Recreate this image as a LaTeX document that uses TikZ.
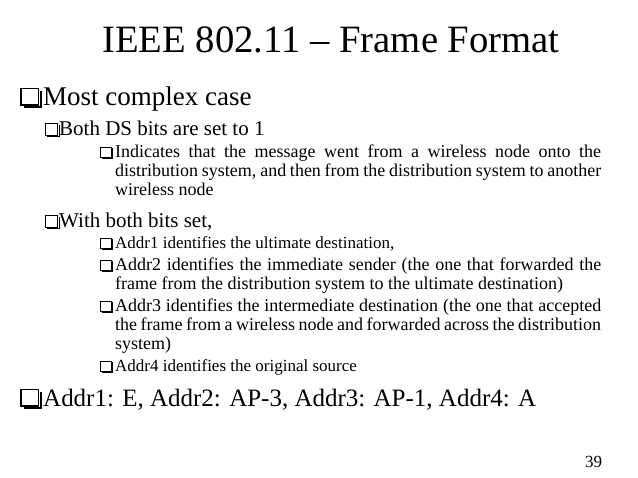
\documentclass[tikz,border=0pt]{standalone}
\usepackage{fontspec}
\setmainfont{Liberation Serif}
\hyphenpenalty=10000
\exhyphenpenalty=10000
\newcommand{\qbul}[3]{% x, baseline y, size
  \draw[black,line width=0.09*#3] (#1+0.12*#3,#2+0.04*#3) -- (#1+0.9*#3,#2+0.04*#3) -- (#1+0.9*#3,#2-0.7*#3);
  \draw[black,line width=0.06*#3,fill=white] (#1,#2-0.78*#3) rectangle (#1+0.8*#3,#2-0.04*#3);}
\tikzset{txt/.style={anchor=base west,inner sep=0pt}}
\begin{document}
\begin{tikzpicture}[x=1pt,y=-1pt]
\useasboundingbox (0,0) rectangle (638,478);
\node[anchor=base,inner sep=0pt,font=\fontsize{38.7}{40}\selectfont] (title) at (331,53) {IEEE 802.11 – Frame Format};
\qbul{21}{106}{22}
\node[txt,font=\fontsize{27}{30}\selectfont] (a) at (43,106) {Most complex case};
\qbul{45}{136}{16}
\node[txt,font=\fontsize{21}{23}\selectfont] (b) at (59,136) {Both DS bits are set to 1};
\qbul{100}{158}{14}
\node[txt,font=\fontsize{18}{19}\selectfont] (c) at (115,158) {\parbox[t]{486pt}{Indicates that the message went from a wireless node onto the distribution system, and then from the distribution system to another wireless node}};
\qbul{45}{228}{16}
\node[txt,font=\fontsize{21}{23}\selectfont] (d) at (59,228) {With both bits set,};
\qbul{100}{249}{14}
\node[txt,font=\fontsize{17}{19}\selectfont] (e) at (115,249) {Addr1 identifies the ultimate destination,};
\qbul{100}{271}{14}
\node[txt,font=\fontsize{18}{19}\selectfont] (f) at (115,271) {\parbox[t]{486pt}{Addr2 identifies the immediate sender (the one that forwarded the frame from the distribution system to the ultimate destination)}};
\qbul{100}{312}{14}
\node[txt,font=\fontsize{18}{19}\selectfont] (g) at (115,312) {\parbox[t]{486pt}{Addr3 identifies the intermediate destination (the one that accepted the frame from a wireless node and forwarded across the distribution system)}};
\qbul{100}{372}{14}
\node[txt,font=\fontsize{17}{19}\selectfont] (h) at (115,372) {Addr4 identifies the original source};
\qbul{21}{407}{22}
\node[txt,font=\fontsize{25}{28}\selectfont] (i) at (43,407) {Addr1: E, Addr2: AP-3, Addr3: AP-1, Addr4: A};
\node[txt,font=\fontsize{17}{19}\selectfont] (n) at (585,468) {39};
\end{tikzpicture}
\end{document}
